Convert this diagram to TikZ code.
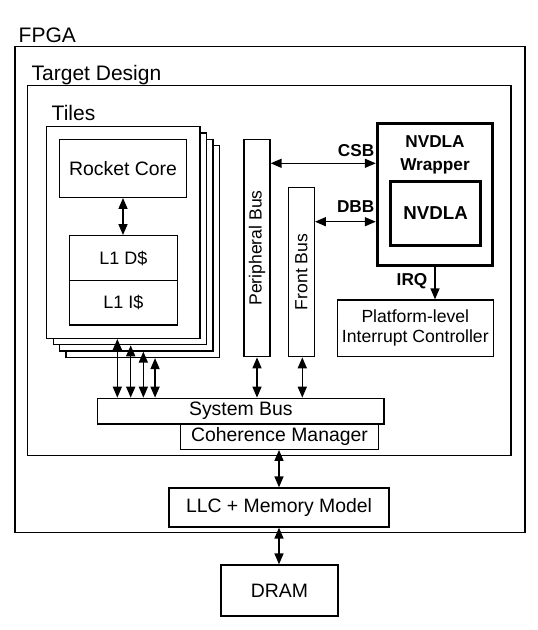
\documentclass[tikz,border=0pt]{standalone}
\usepackage{fontspec}
\setmainfont{Liberation Sans}
\usetikzlibrary{arrows.meta}
\begin{document}
\begin{tikzpicture}[x=1pt,y=-1pt,
  box/.style={draw, line width=1.3pt, fill=white, inner sep=0pt, font=\fontsize{19.4}{22}\selectfont},
  thickbox/.style={draw, line width=3pt, fill=white, inner sep=0pt},
  sect/.style={anchor=base west, inner sep=0pt, font=\fontsize{21}{24}\selectfont},
  buslbl/.style={rotate=90, inner sep=0pt, font=\fontsize{17.6}{20}\selectfont},
  blbl/.style={inner sep=0pt, font=\bfseries\fontsize{17.2}{20}\selectfont},
  arr/.style={line width=1.5pt, {Triangle[length=11pt,width=9pt]}-{Triangle[length=11pt,width=9pt]}},
  arrone/.style={line width=1.5pt, -{Triangle[length=11pt,width=9pt]}}
]
\useasboundingbox (0,0) rectangle (538,630);

% FPGA
\node[box, minimum width=510, minimum height=486] (fpga) at (270,289.7) {};
\node[sect] (fpgal) at (18.5,42.5) {FPGA};
% Target Design
\node[box, minimum width=483.3, minimum height=370.4] (td) at (269.35,270.5) {};
\node[sect] (tdl) at (31.5,80) {Target Design};
\node[sect] (tilesl) at (51.5,120) {Tiles};

% Tile stack
\node[box, minimum width=153.3, minimum height=211.6] (t4) at (142.65,251.6) {};
\node[box, minimum width=153.3, minimum height=211.6] (t3) at (136.25,245.2) {};
\node[box, minimum width=153.3, minimum height=211.6] (t2) at (129.8,238.9) {};
\node[box, minimum width=153.3, minimum height=211.6] (t1) at (123.35,232.5) {};

\node[box, minimum width=127.4, minimum height=58] (rc) at (123,168.3) {Rocket Core};
\node[box, minimum width=108, minimum height=44.6, font=\fontsize{18}{21}\selectfont] (l1d) at (123.3,258) {L1 D\$};
\node[box, minimum width=108, minimum height=44.7, font=\fontsize{18}{21}\selectfont] (l1i) at (123.3,302.65) {L1 I\$};

% Buses
\node[box, minimum width=26, minimum height=217.4] (pb) at (257,248) {};
\node[buslbl] (pbl) at (pb.center) {Peripheral Bus};
\node[box, minimum width=26, minimum height=169.4] (fb) at (301.3,272) {};
\node[buslbl] (fbl) at (fb.center) {Front Bus};

% NVDLA
\node[thickbox, minimum width=115.4, minimum height=141.7] (wr) at (435,194.2) {};
\node[blbl, anchor=base] (wrl1) at (435,147.5) {NVDLA};
\node[blbl, anchor=base] (wrl2) at (435,170) {Wrapper};
\node[thickbox, minimum width=90, minimum height=63.6, font=\bfseries\fontsize{18.7}{22}\selectfont] (nv) at (435.7,213.5) {NVDLA};

\node[box, minimum width=156, minimum height=56.7, align=center, font=\fontsize{17.6}{20}\selectfont] (plic) at (415.3,328.35) {Platform-level\\Interrupt Controller};

% System bus
\node[box, minimum width=286.3, minimum height=25.7] (sb) at (240.85,411.15) {System Bus};
\node[box, minimum width=197.6, minimum height=25.3] (cm) at (279.5,436.65) {Coherence Manager};

\node[box, minimum width=220, minimum height=39] (llc) at (279,507.5) {LLC + Memory Model};
\node[box, minimum width=117, minimum height=51] (dram) at (279.5,590.5) {DRAM};

% connectors
\draw[arr] (rc.south) -- (rc.south |- l1d.north);
\draw[arr] ([xshift=-6pt]t1.south) -- ([xshift=-6pt]t1.south |- sb.north);
\draw[arr] ([xshift=0.9pt]t2.south) -- ([xshift=0.9pt]t2.south |- sb.north);
\draw[arr] ([xshift=7.1pt]t3.south) -- ([xshift=7.1pt]t3.south |- sb.north);
\draw[arr] ([xshift=12.4pt]t4.south) -- ([xshift=12.4pt]t4.south |- sb.north);
\draw[arr] (pb.south) -- (pb.south |- sb.north);
\draw[arr] ([xshift=1pt]fb.south) -- ([xshift=1pt]fb.south |- sb.north);

\coordinate (csby) at (0,163.3);
\coordinate (dbby) at (0,221.7);
\draw[arr] (pb.east |- csby) -- (wr.west |- csby);
\draw[arr] (fb.east |- dbby) -- (wr.west |- dbby);
\node[blbl, anchor=base east] (csbl) at (374.5,156) {CSB};
\node[blbl, anchor=base east] (dbbl) at (374.5,212.7) {DBB};

\draw[arrone] (wr.south) -- (wr.south |- plic.north);
\node[blbl, anchor=base east] (irql) at (427.5,285) {IRQ};

\draw[arr] ([xshift=-0.5pt]cm.south) -- ([xshift=-0.5pt]cm.south |- llc.north);
\draw[arr] (llc.south) -- (llc.south |- dram.north);
\end{tikzpicture}
\end{document}
